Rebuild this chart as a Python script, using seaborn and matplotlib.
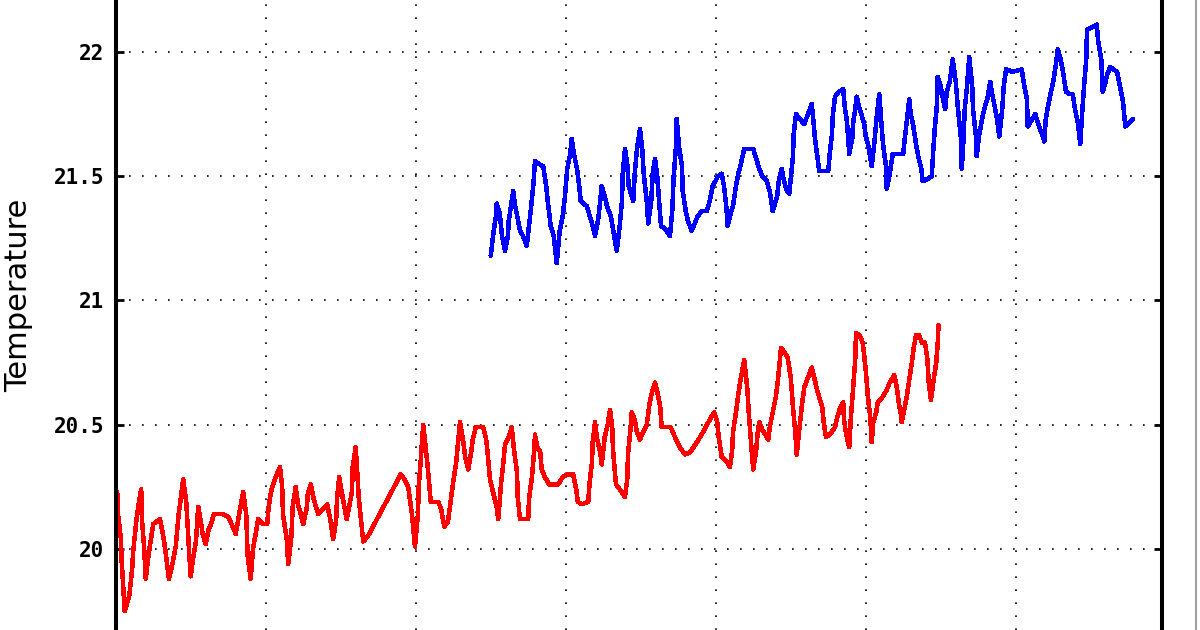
import matplotlib
matplotlib.use("Agg")
import matplotlib.pyplot as plt
import pandas as pd
import seaborn as sns

# red series (earlier record)
red_year = [
    1950.1, 1950.15, 1950.35, 1950.4, 1950.6, 1950.9, 1951.1, 1951.15, 1951.35, 1951.5,
    1951.7, 1951.75, 1951.9, 1952.0, 1952.2, 1952.35, 1952.5, 1952.95, 1953.15, 1953.3,
    1953.55, 1953.75, 1954.0, 1954.2, 1954.35, 1954.5, 1954.7, 1954.8, 1954.9, 1955.0,
    1955.15, 1955.35, 1955.5, 1955.7, 1955.8, 1956.0, 1956.2, 1956.35, 1956.55, 1957.15,
    1957.5, 1957.8, 1958.0, 1958.2, 1958.5, 1958.7, 1958.8, 1959.0, 1959.15, 1959.5,
    1959.8, 1960.1, 1960.2, 1960.35, 1960.6, 1960.95, 1961.1, 1961.15, 1961.4, 1961.5,
    1961.7, 1961.75, 1961.8, 1962.0, 1962.15, 1962.3, 1962.5, 1962.75, 1962.8, 1963.0,
    1963.2, 1963.5, 1963.8, 1964.1, 1964.3, 1964.5, 1964.7, 1964.75, 1964.9, 1965.15,
    1965.4, 1965.75, 1965.8, 1966.0, 1966.1, 1966.2, 1966.35, 1966.5, 1966.8, 1969.0,
    1969.15, 1969.5, 1969.75, 1969.95, 1970.15, 1970.2, 1970.35, 1970.5, 1970.8, 1971.0,
    1971.5, 1971.7, 1971.9, 1972.15, 1972.5, 1972.7, 1972.95, 1973.15, 1973.3, 1973.5,
    1973.7, 1973.8, 1974.0, 1974.5, 1974.7, 1974.8, 1974.95, 1975.15, 1975.4, 1975.5,
    1975.7, 1975.85, 1975.95, 1976.2, 1976.4, 1976.55, 1976.75, 1976.8, 1976.95, 1977.5,
    1977.55, 1977.75, 1977.9, 1977.95, 1978.1, 1978.3, 1978.4, 1978.6, 1978.9, 1979.5,
    1979.8, 1980.15, 1980.5, 1980.7, 1980.8, 1981.1, 1981.5, 1981.6, 1981.75, 1981.8,
    1981.95, 1982.1, 1982.3, 1982.4, 1982.6, 1982.8, 1982.95, 1983.1, 1983.15, 1983.35,
    1983.6, 1983.95, 1984.1, 1984.15, 1984.3, 1984.4, 1984.6, 1984.75, 1984.95, 1985.15,
    1985.4, 1985.6, 1985.75, 1985.95, 1986.15, 1986.3, 1986.4, 1986.75, 1987.0, 1987.15,
    1987.35, 1987.6, 1987.95, 1988.3, 1988.75, 1989.15, 1989.6, 1989.9, 1990.1, 1990.2,
    1990.4, 1990.75, 1990.95, 1991.1, 1991.15, 1991.35, 1991.5, 1991.6, 1991.8, 1991.9,
    1992.1, 1992.2, 1992.35, 1992.5, 1992.7, 1992.8, 1992.9, 1993.1, 1993.3, 1993.5,
    1993.6, 1993.8, 1994.0, 1994.15, 1994.35, 1994.6, 1994.8, 1995.0, 1995.15, 1995.3,
    1995.4, 1995.55, 1995.75, 1995.9, 1996.15, 1996.4, 1996.6, 1996.8, 1997.1, 1997.2,
    1997.35, 1997.6, 1997.95, 1998.1, 1998.3, 1998.5, 1998.55, 1998.7, 1998.9, 1999.0,
    1999.15, 1999.3, 1999.35, 1999.6, 1999.8, 2000.0, 2000.15, 2000.3, 2000.4, 2000.5,
    2000.7, 2000.8, 2001.1, 2001.4, 2001.6, 2001.9, 2002.1, 2002.2, 2002.35, 2002.4,
    2002.6, 2002.75, 2002.95, 2003.1, 2003.2, 2003.35, 2003.55, 2003.75, 2003.95, 2004.1,
    2004.2, 2004.35, 2004.5, 2004.7, 2004.8, 2004.85,
]
red_temp = [
    20.23, 20.14, 20.04, 19.95, 19.75, 19.81, 19.92, 19.98, 20.10, 20.17,
    20.24, 20.12, 20.00, 19.88, 19.98, 20.04, 20.10, 20.12, 20.06, 20.00,
    19.88, 19.93, 20.01, 20.14, 20.21, 20.28, 20.19, 20.09, 19.98, 19.89,
    19.96, 20.03, 20.17, 20.10, 20.06, 20.02, 20.08, 20.10, 20.14, 20.14,
    20.13, 20.09, 20.06, 20.13, 20.23, 20.14, 19.97, 19.88, 20.00, 20.12,
    20.10, 20.10, 20.17, 20.23, 20.28, 20.33, 20.25, 20.14, 20.04, 19.94,
    20.04, 20.10, 20.17, 20.25, 20.18, 20.15, 20.10, 20.17, 20.22, 20.26,
    20.20, 20.14, 20.16, 20.18, 20.12, 20.04, 20.12, 20.20, 20.29, 20.20,
    20.12, 20.23, 20.33, 20.41, 20.31, 20.21, 20.12, 20.03, 20.05, 20.30,
    20.29, 20.25, 20.14, 20.01, 20.14, 20.25, 20.37, 20.50, 20.33, 20.19,
    20.19, 20.16, 20.09, 20.11, 20.27, 20.35, 20.51, 20.44, 20.37, 20.32,
    20.39, 20.44, 20.49, 20.49, 20.44, 20.38, 20.28, 20.23, 20.17, 20.12,
    20.27, 20.35, 20.42, 20.45, 20.49, 20.40, 20.31, 20.21, 20.12, 20.12,
    20.20, 20.29, 20.40, 20.46, 20.41, 20.39, 20.32, 20.29, 20.26, 20.26,
    20.29, 20.30, 20.30, 20.24, 20.19, 20.18, 20.19, 20.27, 20.35, 20.43,
    20.51, 20.44, 20.39, 20.34, 20.45, 20.50, 20.56, 20.49, 20.40, 20.26,
    20.24, 20.21, 20.28, 20.38, 20.47, 20.55, 20.52, 20.47, 20.44, 20.47,
    20.50, 20.59, 20.63, 20.67, 20.62, 20.57, 20.49, 20.49, 20.49, 20.47,
    20.44, 20.41, 20.38, 20.39, 20.43, 20.47, 20.52, 20.55, 20.51, 20.45,
    20.37, 20.35, 20.33, 20.40, 20.47, 20.55, 20.62, 20.66, 20.73, 20.76,
    20.65, 20.55, 20.43, 20.32, 20.40, 20.47, 20.51, 20.48, 20.46, 20.44,
    20.49, 20.55, 20.61, 20.68, 20.81, 20.79, 20.77, 20.69, 20.57, 20.47,
    20.38, 20.47, 20.58, 20.65, 20.69, 20.73, 20.68, 20.63, 20.57, 20.51,
    20.45, 20.46, 20.49, 20.53, 20.57, 20.59, 20.52, 20.46, 20.41, 20.52,
    20.64, 20.76, 20.87, 20.86, 20.83, 20.72, 20.61, 20.53, 20.43, 20.51,
    20.55, 20.59, 20.61, 20.64, 20.67, 20.70, 20.64, 20.59, 20.54, 20.51,
    20.57, 20.62, 20.70, 20.76, 20.81, 20.86, 20.86, 20.83, 20.83, 20.77,
    20.67, 20.60, 20.67, 20.75, 20.83, 20.90,
]

# blue series (later record)
blue_year = [
    1975.0, 1975.1, 1975.2, 1975.35, 1975.4, 1975.6, 1975.75, 1975.95, 1976.15, 1976.2,
    1976.35, 1976.5, 1976.6, 1976.8, 1976.95, 1977.15, 1977.4, 1977.55, 1977.7, 1977.85,
    1977.95, 1978.2, 1978.5, 1978.7, 1978.8, 1979.0, 1979.2, 1979.4, 1979.6, 1979.8,
    1979.95, 1980.1, 1980.3, 1980.4, 1980.55, 1980.75, 1980.9, 1981.0, 1981.4, 1981.6,
    1981.8, 1981.95, 1982.15, 1982.3, 1982.4, 1982.6, 1982.75, 1983.0, 1983.15, 1983.4,
    1983.6, 1983.75, 1983.8, 1983.95, 1984.1, 1984.2, 1984.5, 1984.6, 1984.75, 1984.95,
    1985.1, 1985.2, 1985.4, 1985.5, 1985.7, 1985.8, 1985.95, 1986.1, 1986.2, 1986.35,
    1986.6, 1986.95, 1987.1, 1987.2, 1987.35, 1987.4, 1987.55, 1987.75, 1987.8, 1988.0,
    1988.15, 1988.4, 1988.6, 1988.8, 1989.1, 1989.4, 1989.6, 1989.8, 1990.15, 1990.4,
    1990.55, 1990.7, 1990.8, 1991.0, 1991.15, 1991.35, 1991.5, 1991.6, 1991.75, 1991.9,
    1992.5, 1992.75, 1992.9, 1993.1, 1993.4, 1993.6, 1993.8, 1994.1, 1994.2, 1994.4,
    1994.55, 1994.75, 1994.9, 1995.15, 1995.2, 1995.35, 1995.6, 1995.9, 1996.15, 1996.4,
    1996.5, 1996.6, 1996.75, 1996.9, 1997.5, 1997.6, 1997.75, 1997.8, 1997.95, 1998.2,
    1998.5, 1998.6, 1998.75, 1998.9, 1999.1, 1999.15, 1999.3, 1999.4, 1999.55, 1999.75,
    1999.9, 2000.0, 2000.15, 2000.4, 2000.55, 2000.75, 2000.9, 2001.0, 2001.15, 2001.35,
    2001.4, 2001.6, 2001.8, 2002.5, 2002.6, 2002.75, 2002.9, 2003.0, 2003.15, 2003.35,
    2003.5, 2003.7, 2003.8, 2004.15, 2004.4, 2004.5, 2004.6, 2004.75, 2004.8, 2005.0,
    2005.15, 2005.3, 2005.4, 2005.6, 2005.8, 2006.0, 2006.15, 2006.35, 2006.4, 2006.5,
    2006.6, 2006.75, 2006.9, 2007.1, 2007.15, 2007.35, 2007.4, 2007.55, 2007.75, 2007.9,
    2008.1, 2008.3, 2008.4, 2008.6, 2008.75, 2008.9, 2009.1, 2009.2, 2009.35, 2009.8,
    2010.4, 2010.55, 2010.75, 2010.8, 2011.1, 2011.3, 2011.4, 2011.55, 2011.75, 2011.9,
    2012.0, 2012.15, 2012.35, 2012.5, 2012.7, 2012.8, 2013.0, 2013.15, 2013.35, 2013.6,
    2013.8, 2013.95, 2014.15, 2014.3, 2014.4, 2014.55, 2014.7, 2014.75, 2015.1, 2015.4,
    2015.5, 2015.7, 2015.8, 2015.95, 2016.1, 2016.3, 2016.5, 2016.75, 2016.95, 2017.15,
    2017.3, 2017.5, 2017.8,
]
blue_temp = [
    21.18, 21.23, 21.28, 21.34, 21.39, 21.35, 21.26, 21.20, 21.26, 21.32,
    21.38, 21.44, 21.39, 21.33, 21.28, 21.26, 21.22, 21.30, 21.38, 21.47,
    21.56, 21.55, 21.54, 21.46, 21.40, 21.30, 21.26, 21.15, 21.28, 21.34,
    21.42, 21.53, 21.59, 21.65, 21.59, 21.53, 21.46, 21.40, 21.38, 21.34,
    21.30, 21.26, 21.32, 21.40, 21.46, 21.42, 21.38, 21.34, 21.29, 21.20,
    21.30, 21.40, 21.51, 21.61, 21.55, 21.46, 21.40, 21.51, 21.61, 21.69,
    21.61, 21.51, 21.40, 21.31, 21.40, 21.51, 21.57, 21.50, 21.42, 21.30,
    21.29, 21.26, 21.36, 21.50, 21.62, 21.73, 21.62, 21.54, 21.44, 21.36,
    21.32, 21.28, 21.31, 21.34, 21.36, 21.36, 21.40, 21.46, 21.50, 21.51,
    21.46, 21.38, 21.30, 21.35, 21.38, 21.46, 21.51, 21.53, 21.57, 21.61,
    21.61, 21.56, 21.53, 21.50, 21.48, 21.44, 21.36, 21.42, 21.48, 21.53,
    21.48, 21.44, 21.43, 21.58, 21.67, 21.75, 21.73, 21.71, 21.75, 21.79,
    21.73, 21.66, 21.59, 21.52, 21.52, 21.59, 21.67, 21.74, 21.82, 21.84,
    21.85, 21.78, 21.72, 21.59, 21.65, 21.71, 21.77, 21.82, 21.78, 21.74,
    21.71, 21.66, 21.63, 21.54, 21.62, 21.75, 21.83, 21.75, 21.63, 21.54,
    21.45, 21.51, 21.59, 21.59, 21.65, 21.73, 21.81, 21.75, 21.71, 21.63,
    21.58, 21.53, 21.48, 21.49, 21.50, 21.60, 21.69, 21.79, 21.90, 21.86,
    21.81, 21.77, 21.84, 21.88, 21.97, 21.88, 21.77, 21.65, 21.53, 21.63,
    21.77, 21.86, 21.98, 21.86, 21.77, 21.66, 21.58, 21.66, 21.73, 21.77,
    21.81, 21.88, 21.84, 21.78, 21.73, 21.66, 21.77, 21.86, 21.93, 21.92,
    21.93, 21.87, 21.81, 21.70, 21.73, 21.75, 21.73, 21.70, 21.67, 21.64,
    21.73, 21.78, 21.84, 21.88, 21.96, 22.01, 21.97, 21.92, 21.84, 21.83,
    21.83, 21.77, 21.71, 21.63, 21.73, 21.86, 21.97, 22.09, 22.10, 22.11,
    22.04, 21.97, 21.84, 21.87, 21.91, 21.94, 21.93, 21.92, 21.86, 21.80,
    21.70, 21.71, 21.73,
]

y_ticks = [20, 20.5, 21, 21.5, 22]
y_tick_labels = ["20", "20.5", "21", "21.5", "22"]
x_grid = [1960, 1970, 1980, 1990, 2000, 2010]

df = pd.concat([
    pd.DataFrame({"year": red_year, "temp": red_temp, "series": "red"}),
    pd.DataFrame({"year": blue_year, "temp": blue_temp, "series": "blue"}),
], ignore_index=True)

sns.set_style("white")

fig = plt.figure(figsize=(12, 6.3), dpi=100)
# the picture is a crop: the axes run past the top and bottom edges
ax = fig.add_axes([115.7 / 1200, 0, 1046 / 1200, 1])

sns.lineplot(data=df, x="year", y="temp", hue="series",
             palette={"red": "#ff0000", "blue": "#0000ff"},
             estimator=None, sort=False, linewidth=2.5, legend=False,
             antialiased=False, ax=ax)

ax.set_xlim(1950, 2019.73)
ax.set_ylim(19.674, 22.209)
ax.set_xticks(x_grid)
ax.set_yticks(y_ticks)
ax.set_yticklabels(y_tick_labels)

ax.grid(True, color="black", linestyle=(0, (1, 6.8)), linewidth=1.2)
ax.set_axisbelow(True)

ax.tick_params(axis="y", direction="in", length=6, width=2, left=True, right=True,
               labelsize=15, pad=8, colors="black")
ax.tick_params(axis="x", bottom=False, top=False, labelbottom=False)
for lbl in ax.get_yticklabels():
    lbl.set_fontfamily("DejaVu Sans Mono")
    lbl.set_fontweight("bold")

for side in ["top", "bottom"]:
    ax.spines[side].set_visible(False)
for side in ["left", "right"]:
    ax.spines[side].set_linewidth(2.9)
    ax.spines[side].set_color("black")

ax.set_xlabel("")
ax.set_ylabel("Temperature", fontsize=22, family="DejaVu Sans", color="black")
ax.yaxis.set_label_coords(-0.0785, 0.532)

# edge of the neighbouring panel, cut off at the right
edge = fig.add_axes([1196 / 1200, 0, 0.01, 1])
edge.set_xticks([])
edge.set_yticks([])
for side in ["top", "bottom", "right"]:
    edge.spines[side].set_visible(False)
edge.spines["left"].set_color("#a0a0a0")
edge.spines["left"].set_linewidth(1.5)

fig.savefig("out.png", dpi=100)
